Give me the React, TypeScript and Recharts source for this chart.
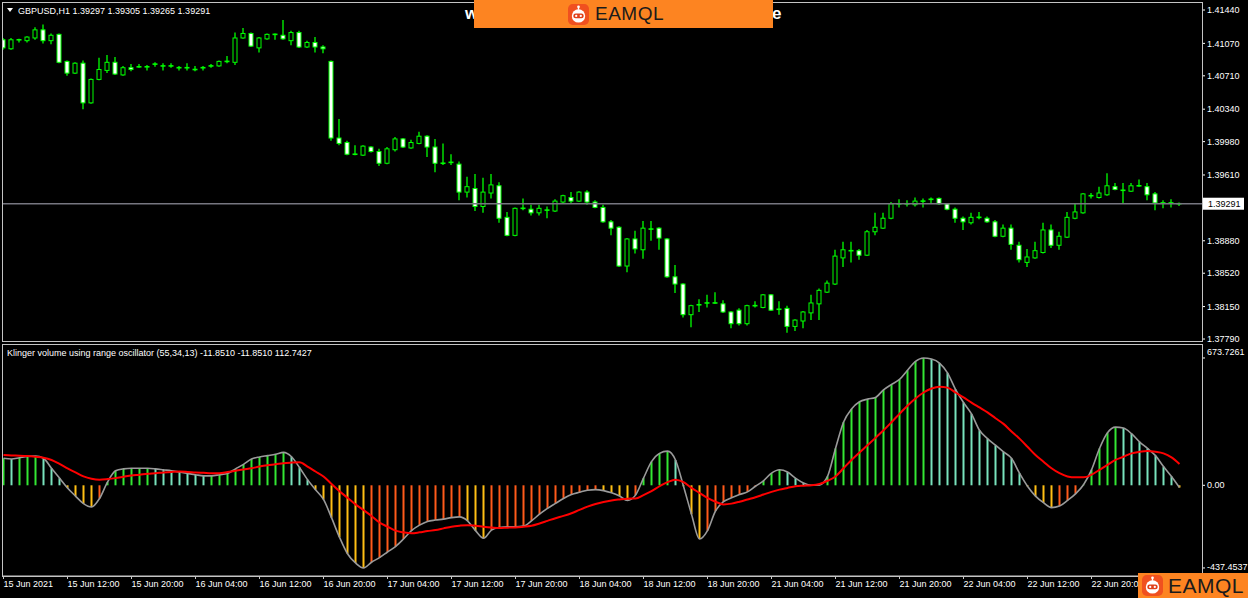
import React from 'react';
import { ComposedChart, Bar, Line, XAxis, YAxis, ReferenceLine, Cell } from 'recharts';

const FONT = '"Liberation Sans", Arial, sans-serif';

// GBPUSD H1 candles: [open, high, low, close]
const ohlc: number[][] = [
  [1.4111, 1.4113, 1.4100, 1.4102], [1.4101, 1.4113, 1.4100, 1.4111], [1.4110, 1.4112, 1.4108, 1.4111], [1.4110, 1.4115, 1.4108, 1.4114],
  [1.4113, 1.4125, 1.4111, 1.4122], [1.4122, 1.4128, 1.4107, 1.4110], [1.4110, 1.4118, 1.4106, 1.4116], [1.4117, 1.4118, 1.4085, 1.4086],
  [1.4087, 1.4088, 1.4071, 1.4074], [1.4074, 1.4086, 1.4073, 1.4085], [1.4085, 1.4088, 1.4034, 1.4041], [1.4041, 1.4068, 1.4040, 1.4067],
  [1.4067, 1.4091, 1.4066, 1.4078], [1.4077, 1.4094, 1.4074, 1.4086], [1.4086, 1.4092, 1.4072, 1.4073], [1.4072, 1.4082, 1.4071, 1.4080],
  [1.4080, 1.4084, 1.4076, 1.4078], [1.4082, 1.4084, 1.4080, 1.4081], [1.4082, 1.4083, 1.4077, 1.4081], [1.4083, 1.4086, 1.4081, 1.4084],
  [1.4082, 1.4085, 1.4077, 1.4082], [1.4081, 1.4085, 1.4080, 1.4082], [1.4080, 1.4082, 1.4077, 1.4080], [1.4080, 1.4085, 1.4077, 1.4080],
  [1.4078, 1.4082, 1.4076, 1.4078], [1.4080, 1.4082, 1.4077, 1.4080], [1.4081, 1.4084, 1.4080, 1.4082], [1.4082, 1.4088, 1.4081, 1.4087],
  [1.4086, 1.4093, 1.4085, 1.4087], [1.4086, 1.4119, 1.4083, 1.4113], [1.4113, 1.4124, 1.4112, 1.4118], [1.4118, 1.4119, 1.4103, 1.4104],
  [1.4102, 1.4114, 1.4097, 1.4113], [1.4112, 1.4118, 1.4111, 1.4117], [1.4116, 1.4118, 1.4111, 1.4117], [1.4116, 1.4133, 1.4111, 1.4112],
  [1.4110, 1.4121, 1.4105, 1.4119], [1.4119, 1.4121, 1.4102, 1.4103], [1.4103, 1.4110, 1.4102, 1.4108], [1.4108, 1.4114, 1.4097, 1.4103],
  [1.4103, 1.4105, 1.4096, 1.4101], [1.4087, 1.4088, 1.3999, 1.4002], [1.4002, 1.4023, 1.3994, 1.3996], [1.3997, 1.3999, 1.3983, 1.3984],
  [1.3985, 1.3994, 1.3983, 1.3984], [1.3983, 1.3994, 1.3982, 1.3993], [1.3992, 1.3993, 1.3986, 1.3987], [1.3987, 1.3990, 1.3971, 1.3974],
  [1.3974, 1.3992, 1.3973, 1.3990], [1.3989, 1.4003, 1.3987, 1.4001], [1.4001, 1.4002, 1.3991, 1.3992], [1.3991, 1.4000, 1.3990, 1.3997],
  [1.3996, 1.4009, 1.3995, 1.4004], [1.4004, 1.4005, 1.3981, 1.3992], [1.3992, 1.4001, 1.3964, 1.3974], [1.3975, 1.3996, 1.3972, 1.3974],
  [1.3975, 1.3984, 1.3972, 1.3975], [1.3973, 1.3976, 1.3933, 1.3942], [1.3942, 1.3959, 1.3936, 1.3948], [1.3946, 1.3962, 1.3921, 1.3926],
  [1.3926, 1.3958, 1.3919, 1.3942], [1.3941, 1.3962, 1.3935, 1.3950], [1.3949, 1.3953, 1.3908, 1.3913], [1.3914, 1.3920, 1.3893, 1.3894],
  [1.3894, 1.3925, 1.3893, 1.3924], [1.3924, 1.3935, 1.3922, 1.3924], [1.3923, 1.3928, 1.3916, 1.3919], [1.3919, 1.3928, 1.3916, 1.3924],
  [1.3922, 1.3926, 1.3913, 1.3922], [1.3921, 1.3934, 1.3920, 1.3932], [1.3931, 1.3939, 1.3930, 1.3938], [1.3936, 1.3942, 1.3930, 1.3932],
  [1.3932, 1.3943, 1.3931, 1.3942], [1.3942, 1.3944, 1.3928, 1.3931], [1.3931, 1.3933, 1.3924, 1.3925], [1.3925, 1.3928, 1.3908, 1.3909],
  [1.3909, 1.3911, 1.3894, 1.3902], [1.3903, 1.3904, 1.3859, 1.3860], [1.3860, 1.3891, 1.3853, 1.3890], [1.3890, 1.3899, 1.3874, 1.3879],
  [1.3878, 1.3910, 1.3868, 1.3902], [1.3901, 1.3910, 1.3888, 1.3901], [1.3902, 1.3903, 1.3878, 1.3891], [1.3890, 1.3891, 1.3847, 1.3848],
  [1.3848, 1.3861, 1.3830, 1.3840], [1.3840, 1.3841, 1.3803, 1.3806], [1.3806, 1.3817, 1.3792, 1.3816], [1.3817, 1.3823, 1.3809, 1.3817],
  [1.3819, 1.3828, 1.3814, 1.3819], [1.3819, 1.3831, 1.3818, 1.3819], [1.3818, 1.3822, 1.3808, 1.3809], [1.3809, 1.3810, 1.3791, 1.3796],
  [1.3811, 1.3813, 1.3794, 1.3796], [1.3796, 1.3817, 1.3794, 1.3816], [1.3816, 1.3821, 1.3814, 1.3816], [1.3814, 1.3829, 1.3813, 1.3828],
  [1.3828, 1.3829, 1.3810, 1.3811], [1.3812, 1.3821, 1.3806, 1.3812], [1.3813, 1.3816, 1.3786, 1.3793], [1.3793, 1.3801, 1.3788, 1.3800],
  [1.3799, 1.3810, 1.3791, 1.3809], [1.3808, 1.3828, 1.3800, 1.3819], [1.3818, 1.3835, 1.3800, 1.3833], [1.3831, 1.3844, 1.3830, 1.3841],
  [1.3840, 1.3878, 1.3839, 1.3871], [1.3869, 1.3887, 1.3859, 1.3878], [1.3877, 1.3887, 1.3864, 1.3877], [1.3877, 1.3879, 1.3867, 1.3872],
  [1.3872, 1.3900, 1.3871, 1.3898], [1.3898, 1.3919, 1.3894, 1.3903], [1.3902, 1.3919, 1.3901, 1.3913], [1.3913, 1.3931, 1.3912, 1.3929],
  [1.3929, 1.3934, 1.3925, 1.3929], [1.3929, 1.3933, 1.3926, 1.3929], [1.3928, 1.3936, 1.3926, 1.3932], [1.3932, 1.3935, 1.3925, 1.3932],
  [1.3934, 1.3936, 1.3930, 1.3934], [1.3935, 1.3936, 1.3928, 1.3929], [1.3929, 1.3930, 1.3922, 1.3923], [1.3923, 1.3925, 1.3908, 1.3913],
  [1.3913, 1.3915, 1.3900, 1.3909], [1.3908, 1.3919, 1.3906, 1.3914], [1.3914, 1.3920, 1.3912, 1.3914], [1.3913, 1.3915, 1.3908, 1.3909],
  [1.3909, 1.3911, 1.3892, 1.3893], [1.3893, 1.3906, 1.3892, 1.3902], [1.3902, 1.3906, 1.3878, 1.3884], [1.3883, 1.3887, 1.3864, 1.3867],
  [1.3864, 1.3879, 1.3859, 1.3870], [1.3869, 1.3887, 1.3868, 1.3877], [1.3875, 1.3908, 1.3874, 1.3900], [1.3900, 1.3906, 1.3880, 1.3883],
  [1.3883, 1.3898, 1.3878, 1.3893], [1.3892, 1.3920, 1.3891, 1.3914], [1.3913, 1.3930, 1.3912, 1.3920], [1.3919, 1.3941, 1.3918, 1.3940],
  [1.3938, 1.3941, 1.3935, 1.3938], [1.3936, 1.3948, 1.3935, 1.3941], [1.3939, 1.3963, 1.3938, 1.3949], [1.3948, 1.3952, 1.3944, 1.3945],
  [1.3944, 1.3952, 1.3930, 1.3944], [1.3943, 1.3952, 1.3942, 1.3949], [1.3949, 1.3956, 1.3948, 1.3949], [1.3948, 1.3952, 1.3933, 1.3939],
  [1.3940, 1.3942, 1.3922, 1.3930], [1.3930, 1.3933, 1.3924, 1.3930], [1.3930, 1.3934, 1.3925, 1.3930], [1.39297, 1.39305, 1.39265, 1.39291],
];

// Klinger oscillator (histogram + grey line) and its signal line
const klinger = [
  143, 139, 146, 153, 155, 143, 90, 38, -14, -57,
  -97, -115, -70, 17, 77, 87, 90, 90, 90, 87,
  82, 77, 70, 63, 56, 50, 50, 56, 63, 87,
  111, 139, 150, 157, 164, 174, 151, 94, 30, -23,
  -75, -171, -275, -362, -411, -437.45, -407, -383, -353, -324,
  -284, -240, -211, -191, -184, -179, -171, -167, -188, -240,
  -280, -237, -223, -219, -219, -216, -188, -153, -122, -96,
  -70, -49, -37, -26, -23, -28, -40, -57, -80, -52,
  38, 125, 169, 181, 134, -5, -153, -284, -240, -136,
  -87, -66, -49, -35, -5, 24, 64, 82, 70, 38,
  12, 0, 2, 47, 195, 334, 404, 442, 456, 465,
  505, 534, 560, 609, 656, 673.73, 668, 647, 595, 508,
  438, 378, 291, 247, 212, 177, 143, 64, -5, -57,
  -92, -118, -110, -80, -45, 3, 82, 195, 278, 308,
  303, 273, 230, 195, 157, 99, 47, -11.851,
];

const signal = [
  160, 158, 157, 155, 151, 146, 134, 113, 90, 68,
  47, 35, 30, 33, 38, 45, 52, 56, 61, 64,
  68, 71, 73, 71, 68, 66, 64, 64, 70, 77,
  84, 90, 99, 106, 111, 117, 120, 122, 99, 73,
  47, 7, -31, -66, -101, -131, -162, -197, -219, -240,
  -249, -254, -249, -242, -237, -228, -219, -214, -211, -214,
  -219, -223, -226, -224, -223, -219, -214, -202, -188, -174,
  -162, -148, -130, -113, -99, -88, -80, -75, -71, -70,
  -52, -31, -5, 17, 30, 17, -14, -40, -66, -87,
  -101, -97, -87, -75, -63, -49, -35, -23, -14, -5,
  -2, 0, 7, 24, 47, 90, 134, 174, 212, 251,
  291, 334, 378, 421, 459, 491, 512, 522, 517, 491,
  465, 438, 412, 386, 355, 325, 285, 247, 204, 160,
  125, 90, 64, 47, 42, 42, 56, 82, 108, 134,
  151, 169, 177, 181, 177, 169, 148, 112.7427,
];

const timeLabels = [
  '15 Jun 2021', '15 Jun 12:00', '15 Jun 20:00', '16 Jun 04:00', '16 Jun 12:00', '16 Jun 20:00',
  '17 Jun 04:00', '17 Jun 12:00', '17 Jun 20:00', '18 Jun 04:00', '18 Jun 12:00', '18 Jun 20:00',
  '21 Jun 04:00', '21 Jun 12:00', '21 Jun 20:00', '22 Jun 04:00', '22 Jun 12:00', '22 Jun 20:00',
];

const priceTicks = [1.4144, 1.4107, 1.4071, 1.4034, 1.3998, 1.3961, 1.3888, 1.3852, 1.3815, 1.3779];
const lastPrice = 1.39291;
const oscMax = 673.7261;
const oscMin = -437.4537;

const priceData = ohlc.map(([o, h, l, c], i) => ({ i, o, h, l, c, range: [l, h] }));
const oscData = klinger.map((v, i) => ({ i, v, s: signal[i] }));
const timeTicks = timeLabels.map((_, k) => k * 8);
const xDomain: [number, number] = [-0.0625, 149.8125];

const oscColor = (i: number) => {
  const v = klinger[i];
  const prev = i > 0 ? klinger[i - 1] : v;
  if (v >= 0) return v >= prev ? '#33e633' : '#78e2bc';
  return v < prev ? '#ffbf14' : '#ff5a1a';
};

function Candle(props: any) {
  const { x, y, width, height, payload } = props;
  if (x == null || payload == null) return null;
  const top = Math.min(y, y + height);
  const hgt = Math.abs(height);
  const { o, c, l } = payload;
  const hi = payload.h;
  const span = hi - l || 1;
  const py = (p: number) => top + ((hi - p) / span) * hgt;
  const cx = x + width / 2;
  const yo = py(o);
  const yc = py(c);
  const bTop = Math.min(yo, yc);
  const bH = Math.abs(yo - yc);
  const green = '#00ff00';
  return (
    <g>
      <line x1={cx} x2={cx} y1={top} y2={top + hgt} stroke={green} strokeWidth={1.3} />
      {bH < 1.2 ? (
        <line x1={cx - 2.5} x2={cx + 2.5} y1={yc} y2={yc} stroke={green} strokeWidth={1.6} />
      ) : (
        <rect x={cx - 2} y={bTop} width={4} height={bH} fill={c > o ? '#000' : '#fff'} stroke={green} strokeWidth={1} />
      )}
    </g>
  );
}

function PriceTick({ x, y, payload }: any) {
  return (
    <text x={x} y={y} dy="0.355em" fill="#fff" fontSize={9} fontFamily={FONT}>
      {payload.value.toFixed(5)}
    </text>
  );
}

function OscTick({ x, y, payload }: any) {
  const v = payload.value;
  const label = v === 0 ? '0.00' : v.toFixed(4);
  const dy = v === oscMax ? -6 : v === oscMin ? -1.5 : 0;
  return (
    <text x={x} y={y + dy} dy="0.355em" fill="#fff" fontSize={9} fontFamily={FONT}>
      {label}
    </text>
  );
}

function TimeTick({ x, y, payload }: any) {
  return (
    <text x={x} y={y} dy="0.71em" fill="#fff" fontSize={9} fontFamily={FONT} textAnchor="start">
      {timeLabels[Math.round(payload.value / 8)]}
    </text>
  );
}

function PriceTag(props: any) {
  const vb = props.viewBox || {};
  const x = (vb.x || 0) + (vb.width || 0) + 1;
  const y = vb.y || 0;
  return (
    <g>
      <rect x={x} y={y - 6} width={41} height={12} fill="#fff" />
      <text x={x + 5} y={y} dy="0.355em" fill="#000" fontSize={9} fontFamily={FONT}>
        {lastPrice.toFixed(5)}
      </text>
    </g>
  );
}

function Robot({ size }: { size: number }) {
  return (
    <svg width={size} height={size} viewBox="0 0 22 22">
      <rect x={0} y={0} width={22} height={22} rx={5} fill="#f0501f" />
      <line x1={11} y1={3} x2={11} y2={6} stroke="#fff" strokeWidth={1.4} />
      <circle cx={11} cy={3} r={1.4} fill="#fff" />
      <circle cx={11} cy={12.5} r={7} fill="#fff" />
      <rect x={5.5} y={10} width={11} height={5} rx={2.5} fill="#e0401a" />
      <circle cx={8.6} cy={12.5} r={1.2} fill="#fff" />
      <circle cx={13.4} cy={12.5} r={1.2} fill="#fff" />
    </svg>
  );
}

export default function App() {
  const txt: React.CSSProperties = {
    position: 'absolute', color: '#fff', fontSize: 9, fontFamily: FONT, lineHeight: '10px', whiteSpace: 'nowrap',
  };
  return (
    <div style={{ position: 'absolute', left: 0, top: 0, width: 1248, height: 598, background: '#000', overflow: 'hidden', fontFamily: FONT }}>
      {/* price pane */}
      <div style={{ position: 'absolute', left: 0, top: 0 }}>
        <ComposedChart width={1248} height={344} data={priceData} margin={{ top: 3, right: 0, bottom: 3, left: 3 }}>
          <XAxis dataKey="i" type="number" domain={xDomain} allowDataOverflow ticks={timeTicks} hide />
          <YAxis
            orientation="right" width={46} type="number" domain={[1.37768, 1.41518]} allowDataOverflow
            ticks={priceTicks} interval={0} tick={<PriceTick />} tickSize={3} tickLine={{ stroke: '#fff' }} axisLine={false}
          />
          <ReferenceLine y={lastPrice} stroke="#767680" strokeWidth={1.6} label={<PriceTag />} />
          <Bar dataKey="range" barSize={5} shape={<Candle />} isAnimationActive={false} />
        </ComposedChart>
      </div>

      {/* oscillator pane */}
      <div style={{ position: 'absolute', left: 0, top: 344 }}>
        <ComposedChart width={1248} height={254} data={oscData} margin={{ top: 2, right: 0, bottom: 0, left: 3 }}>
          <XAxis
            dataKey="i" type="number" domain={xDomain} allowDataOverflow ticks={timeTicks} interval={0}
            tick={<TimeTick />} tickSize={3} tickLine={{ stroke: '#c8c8c8' }} axisLine={{ stroke: '#c8c8c8' }} height={22}
          />
          <YAxis
            orientation="right" width={46} type="number" domain={[oscMin - 42.5, oscMax + 63.4]} allowDataOverflow
            ticks={[oscMax, 0, oscMin]} interval={0} tick={<OscTick />} tickSize={3} tickLine={{ stroke: '#fff' }} axisLine={false}
          />
          <Bar dataKey="v" barSize={2} isAnimationActive={false}>
            {oscData.map((d) => (
              <Cell key={d.i} fill={oscColor(d.i)} />
            ))}
          </Bar>
          <Line dataKey="v" type="monotone" stroke="#9a9a9a" strokeWidth={1.6} dot={false} isAnimationActive={false} />
          <Line dataKey="s" type="monotone" stroke="#ff0000" strokeWidth={2} dot={false} isAnimationActive={false} />
        </ComposedChart>
      </div>

      {/* window frames */}
      <div style={{ position: 'absolute', left: 2, top: 2, width: 1201, height: 340, border: '1px solid #c4c4c4', boxSizing: 'border-box' }} />
      <div style={{ position: 'absolute', left: 2, top: 344, width: 1201, height: 233, border: '1px solid #c4c4c4', boxSizing: 'border-box' }} />

      {/* headers */}
      <svg style={{ position: 'absolute', left: 7, top: 8 }} width={7} height={5}>
        <polygon points="0,0 6,0 3,4" fill="#fff" />
      </svg>
      <div style={{ ...txt, left: 18, top: 6 }}>GBPUSD,H1 1.39297 1.39305 1.39265 1.39291</div>
      <div style={{ ...txt, left: 7, top: 348 }}>Klinger volume using range oscillator (55,34,13) -11.8510 -11.8510 112.7427</div>

      {/* title fragments behind the banner */}
      <div style={{ ...txt, left: 465, top: 4, fontSize: 17, lineHeight: '20px', fontWeight: 700 }}>w</div>
      <div style={{ ...txt, left: 772, top: 4, fontSize: 17, lineHeight: '20px', fontWeight: 700 }}>e</div>

      {/* top banner */}
      <div style={{ position: 'absolute', left: 474, top: 0, width: 299, height: 28, background: '#fd8421' }}>
        <div style={{ position: 'absolute', left: 94, top: 4 }}><Robot size={21} /></div>
        <div style={{ position: 'absolute', left: 121, top: 3, fontSize: 19, lineHeight: '22px', color: '#1b1b1b', fontFamily: FONT, letterSpacing: 0.5 }}>EAMQL</div>
      </div>

      {/* bottom-right banner */}
      <div style={{ position: 'absolute', left: 1138, top: 573, width: 110, height: 25, background: '#fd8421' }}>
        <div style={{ position: 'absolute', left: 4, top: 2 }}><Robot size={21} /></div>
        <div style={{ position: 'absolute', left: 30, top: 1, fontSize: 21, lineHeight: '23px', color: '#1b1b1b', fontFamily: FONT, letterSpacing: 0.5 }}>EAMQL</div>
      </div>
    </div>
  );
}
